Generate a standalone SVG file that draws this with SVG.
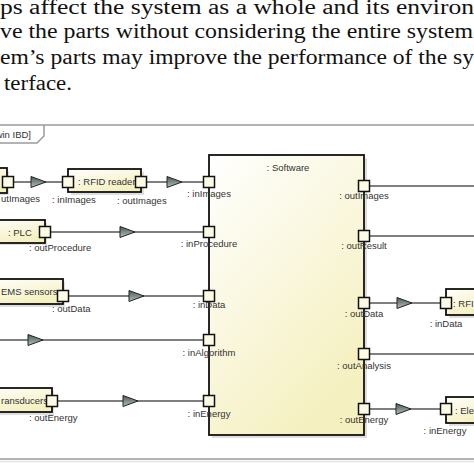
<svg xmlns="http://www.w3.org/2000/svg" width="474" height="474" viewBox="0 0 474 474">
<defs>
<linearGradient id="gy" x1="0" y1="0" x2="0.6" y2="1">
<stop offset="0" stop-color="#ffffff"/>
<stop offset="1" stop-color="#f5f0c0"/>
</linearGradient>
<linearGradient id="ag" x1="0" y1="0" x2="0" y2="1">
<stop offset="0" stop-color="#4c5a5a"/>
<stop offset="1" stop-color="#b4bebe"/>
</linearGradient>
<style>
.para{font-family:"Liberation Serif","Times New Roman",serif;font-size:20.5px;fill:#111}
.blk{fill:url(#gy);stroke:#111;stroke-width:1.8}
.shd{fill:#c8c8c8;opacity:.6}
.port{fill:#fdfbe6;stroke:#111;stroke-width:1.5}
.t{font-family:"Liberation Sans",Arial,sans-serif;font-size:9.5px;fill:#333}
.m{text-anchor:middle}
.conn{stroke:#555;stroke-width:1.5;fill:none}
.arr{fill:url(#ag);stroke:#222;stroke-width:1}
.frame{stroke:#9a9a9a;stroke-width:1.5;fill:none}
</style>
</defs>
<rect width="474" height="474" fill="#fff"/>
<g id="paragraph">
<text class="para" x="0" y="14" textLength="474" lengthAdjust="spacingAndGlyphs">ps affect the system as a whole and its environ</text>
<text class="para" x="0" y="38" textLength="473" lengthAdjust="spacingAndGlyphs">ve the parts without considering the entire system</text>
<text class="para" x="0" y="64" textLength="474" lengthAdjust="spacingAndGlyphs">em’s parts may improve the performance of the sy</text>
<text class="para" x="4" y="90" textLength="68" lengthAdjust="spacingAndGlyphs">terface.</text>
</g>
<g id="frame">
<path class="frame" d="M-2,125 H476 M-2,459 H476"/>
<path d="M-2,461.5 H476" stroke="#e2e2e2" stroke-width="1.5"/>
<path class="frame" d="M-2,143 H37 L44,136 V125"/>
<text class="t" x="31" y="138" text-anchor="end" font-size="8.5">win IBD]</text>
</g>
<g id="connectors">
<path class="conn" d="M13.5,182 H62.5 M146.5,182 H203.5 M50.5,232 H203.5 M68.5,296 H203.5 M0,340 H203.5 M57.5,401 H203.5"/>
<path class="conn" d="M369.5,186 H474 M369.5,236 H474 M369.5,303 H440.5 M369.5,354 H474 M369.5,409 H440.5"/>
<path class="arr" d="M31,176.5 L46,182 L31,187.5 Z"/>
<path class="arr" d="M167,176.5 L182,182 L167,187.5 Z"/>
<path class="arr" d="M120,226.5 L135,232 L120,237.5 Z"/>
<path class="arr" d="M129,290.5 L144,296 L129,301.5 Z"/>
<path class="arr" d="M28,334.5 L43,340 L28,345.5 Z"/>
<path class="arr" d="M123,395.5 L138,401 L123,406.5 Z"/>
<path class="arr" d="M397,297.5 L412,303 L397,308.5 Z"/>
<path class="arr" d="M396,403.5 L411,409 L396,414.5 Z"/>
</g>
<g id="camera">
<rect class="shd" x="-38" y="171" width="47" height="24"/>
<rect class="blk" x="-40" y="168" width="47" height="25"/>
<rect class="port" x="2.5" y="176.5" width="11" height="11"/>
<text class="t" x="1" y="202">utImages</text>
</g>
<g id="rfid-reader">
<rect class="shd" x="71" y="172" width="73" height="23"/>
<rect class="blk" x="68" y="169" width="73" height="23"/>
<text class="t" x="78" y="185">: RFID reader</text>
<rect class="port" x="62.5" y="176.5" width="11" height="11"/>
<rect class="port" x="135.5" y="176.5" width="11" height="11"/>
<text class="t" x="52" y="203">: inImages</text>
<text class="t" x="117" y="204">: outImages</text>
</g>
<g id="plc">
<rect class="shd" x="-18" y="223" width="65" height="22"/>
<rect class="blk" x="-20" y="220" width="65" height="23"/>
<text class="t" x="8" y="236">: PLC</text>
<rect class="port" x="39.5" y="226.5" width="11" height="11"/>
<text class="t" x="29" y="251">: outProcedure</text>
</g>
<g id="mems-sensors">
<rect class="shd" x="-18" y="282" width="83" height="25"/>
<rect class="blk" x="-20" y="279" width="83" height="25"/>
<text class="t" x="1" y="295">EMS sensors</text>
<rect class="port" x="57.5" y="290.5" width="11" height="11"/>
<text class="t" x="52" y="312">: outData</text>
</g>
<g id="transducers">
<rect class="shd" x="-18" y="391" width="72" height="24"/>
<rect class="blk" x="-20" y="388" width="72" height="24"/>
<text class="t" x="1" y="404">ransducers</text>
<rect class="port" x="46.5" y="395.5" width="11" height="11"/>
<text class="t" x="29" y="421">: outEnergy</text>
</g>
<g id="software">
<rect class="shd" x="212" y="158" width="155" height="280"/>
<rect class="blk" x="209" y="155" width="155" height="280"/>
<text class="t m" x="288" y="171">: Software</text>
<rect class="port" x="203.5" y="176.5" width="11" height="11"/>
<rect class="port" x="203.5" y="226.5" width="11" height="11"/>
<rect class="port" x="203.5" y="290.5" width="11" height="11"/>
<rect class="port" x="203.5" y="334.5" width="11" height="11"/>
<rect class="port" x="203.5" y="395.5" width="11" height="11"/>
<text class="t m" x="209" y="197">: inImages</text>
<text class="t m" x="209" y="247">: inProcedure</text>
<text class="t m" x="209" y="308">: inData</text>
<text class="t m" x="209" y="356">: inAlgorithm</text>
<text class="t m" x="209" y="417">: inEnergy</text>
<rect class="port" x="358.5" y="180.5" width="11" height="11"/>
<rect class="port" x="358.5" y="230.5" width="11" height="11"/>
<rect class="port" x="358.5" y="297.5" width="11" height="11"/>
<rect class="port" x="358.5" y="348.5" width="11" height="11"/>
<rect class="port" x="358.5" y="403.5" width="11" height="11"/>
<text class="t m" x="364" y="199">: outImages</text>
<text class="t m" x="364" y="249">: outResult</text>
<text class="t m" x="364" y="317">: outData</text>
<text class="t m" x="364" y="369">: outAnalysis</text>
<text class="t m" x="364" y="423">: outEnergy</text>
</g>
<g id="rfid-right">
<rect class="shd" x="449" y="292" width="40" height="26"/>
<rect class="blk" x="446" y="289" width="40" height="26"/>
<text class="t" x="453" y="307">: RFI</text>
<rect class="port" x="440.5" y="297.5" width="11" height="11"/>
<text class="t m" x="446" y="327">: inData</text>
</g>
<g id="electric-right">
<rect class="shd" x="449" y="400" width="40" height="26"/>
<rect class="blk" x="446" y="397" width="40" height="26"/>
<text class="t" x="455" y="414">: Ele</text>
<rect class="port" x="440.5" y="403.5" width="11" height="11"/>
<text class="t m" x="445" y="434">: inEnergy</text>
</g>
</svg>
